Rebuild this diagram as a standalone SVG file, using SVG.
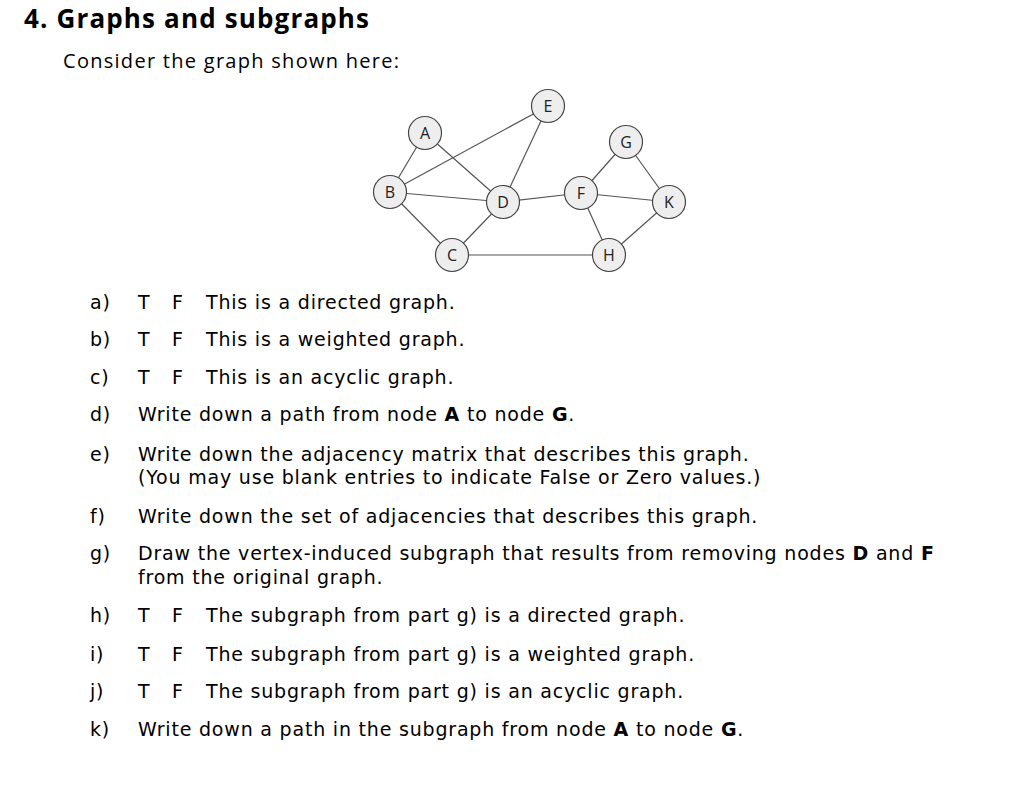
<svg xmlns="http://www.w3.org/2000/svg" width="1024" height="803" viewBox="0 0 1024 803">
<style>
.t{font-family:"DejaVu Sans",Verdana,sans-serif;font-size:19px;letter-spacing:0.8px;fill:#000}
.n circle{fill:#eeeeee;stroke:#444;stroke-width:1.2}
#edges line{stroke:#555;stroke-width:1.2}
</style>
<rect width="1024" height="803" fill="#fff"/>
<text x="24" y="28" font-family="'Open Sans',sans-serif" font-weight="bold" font-size="26" textLength="345">4. Graphs and subgraphs</text>
<text x="63" y="68" font-family="'Open Sans',sans-serif" font-size="20" textLength="336">Consider the graph shown here:</text>
<g id="edges">
<line x1="425" y1="133" x2="390" y2="192"/>
<line x1="425" y1="133" x2="503" y2="202"/>
<line x1="390" y1="192" x2="548" y2="106"/>
<line x1="390" y1="192" x2="503" y2="202"/>
<line x1="390" y1="192" x2="452" y2="255"/>
<line x1="548" y1="106" x2="503" y2="202"/>
<line x1="503" y1="202" x2="452" y2="255"/>
<line x1="503" y1="202" x2="581" y2="193"/>
<line x1="581" y1="193" x2="626" y2="142"/>
<line x1="626" y1="142" x2="669" y2="202"/>
<line x1="581" y1="193" x2="669" y2="202"/>
<line x1="581" y1="193" x2="609" y2="255"/>
<line x1="669" y1="202" x2="609" y2="255"/>
<line x1="452" y1="255" x2="609" y2="255"/>
</g>
<g font-family="'Open Sans','DejaVu Sans',sans-serif" font-size="16" fill="#222" text-anchor="middle">
<g id="A" class="n"><circle cx="425" cy="133" r="16.5"/><text x="425" y="139">A</text></g>
<g id="E" class="n"><circle cx="548" cy="106" r="16.5"/><text x="548" y="112">E</text></g>
<g id="G" class="n"><circle cx="626" cy="142" r="16.5"/><text x="626" y="148">G</text></g>
<g id="B" class="n"><circle cx="390" cy="192" r="16.5"/><text x="390" y="198">B</text></g>
<g id="D" class="n"><circle cx="503" cy="202" r="16.5"/><text x="503" y="208">D</text></g>
<g id="F" class="n"><circle cx="581" cy="193" r="16.5"/><text x="581" y="199">F</text></g>
<g id="K" class="n"><circle cx="669" cy="202" r="16.5"/><text x="669" y="208">K</text></g>
<g id="C" class="n"><circle cx="452" cy="255" r="16.5"/><text x="452" y="261">C</text></g>
<g id="H" class="n"><circle cx="609" cy="255" r="16.5"/><text x="609" y="261">H</text></g>
</g>
<g class="t">
<text x="90" y="309">a)</text><text x="138" y="309">T</text><text x="172" y="309">F</text><text x="206" y="309">This is a directed graph.</text>
<text x="90" y="346">b)</text><text x="138" y="346">T</text><text x="172" y="346">F</text><text x="206" y="346">This is a weighted graph.</text>
<text x="90" y="384">c)</text><text x="138" y="384">T</text><text x="172" y="384">F</text><text x="206" y="384">This is an acyclic graph.</text>
<text x="90" y="421">d)</text><text x="138" y="421">Write down a path from node <tspan font-weight="bold">A</tspan> to node <tspan font-weight="bold">G</tspan>.</text>
<text x="90" y="461">e)</text><text x="138" y="461">Write down the adjacency matrix that describes this graph.</text>
<text x="138" y="484">(You may use blank entries to indicate False or Zero values.)</text>
<text x="90" y="523">f)</text><text x="138" y="523">Write down the set of adjacencies that describes this graph.</text>
<text x="90" y="560">g)</text><text x="138" y="560">Draw the vertex-induced subgraph that results from removing nodes <tspan font-weight="bold">D</tspan> and <tspan font-weight="bold">F</tspan></text>
<text x="138" y="584">from the original graph.</text>
<text x="90" y="622">h)</text><text x="138" y="622">T</text><text x="172" y="622">F</text><text x="206" y="622">The subgraph from part g) is a directed graph.</text>
<text x="90" y="661">i)</text><text x="138" y="661">T</text><text x="172" y="661">F</text><text x="206" y="661">The subgraph from part g) is a weighted graph.</text>
<text x="90" y="698">j)</text><text x="138" y="698">T</text><text x="172" y="698">F</text><text x="206" y="698">The subgraph from part g) is an acyclic graph.</text>
<text x="90" y="736">k)</text><text x="138" y="736">Write down a path in the subgraph from node <tspan font-weight="bold">A</tspan> to node <tspan font-weight="bold">G</tspan>.</text>
</g>
</svg>
